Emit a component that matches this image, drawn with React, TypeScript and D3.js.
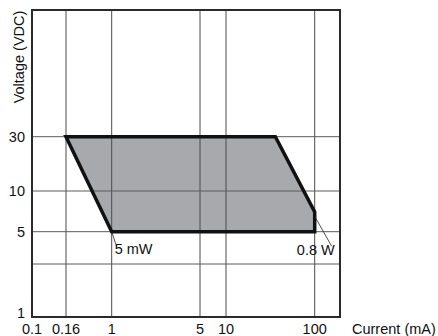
import React from "react";
import * as d3 from "d3";

const xTickValues = [0.1, 0.16, 1, 5, 10, 100];
const xTickLabels = ["0.1", "0.16", "1", "5", "10", "100"];
const xGridValues = [0.16, 1, 5, 10, 100];
const yTickValues = [1, 5, 10, 30];
const yTickLabels = ["1", "5", "10", "30"];
const yGridValues = [3, 5, 10, 30];
const regionCurrent = [0.16, 36, 100, 100, 1];
const regionVoltage = [30, 30, 7, 5, 5];
const annotations = [
  { label: "5 mW", x: 1, y: 5 },
  { label: "0.8 W", x: 100, y: 6.5 },
];

const W = 438;
const H = 336;
const FONT = "'Liberation Sans', Arial, Helvetica, sans-serif";
const FS = 14.5;

export default function App() {
  // schematic (piecewise) log scales
  const x = d3
    .scaleLog()
    .domain([0.1, 0.16, 1, 5, 10, 100, 200])
    .range([32, 66, 111.7, 200, 226, 314.7, 340]);
  const y = d3
    .scaleLog()
    .domain([1, 3, 5, 10, 30, 100])
    .range([317, 264, 231.7, 191, 136.7, 10]);

  const left = 32,
    right = 340,
    top = 10,
    bottom = 317;

  const pts: [number, number][] = regionCurrent.map((c, i) => [x(c), y(regionVoltage[i])]);
  const line = d3.line().curve(d3.curveLinearClosed);
  const poly = line(pts) || "";

  const ann0 = annotations[0];
  const ann1 = annotations[1];

  return (
    <svg
      width={W}
      height={H}
      style={{ position: "absolute", left: 0, top: 0, background: "#fff" }}
      fontFamily={FONT}
    >
      <path d={poly} fill="#a7a9ac" stroke="none" />
      {xGridValues.map((v) => (
        <line key={"xg" + v} x1={x(v)} x2={x(v)} y1={top} y2={bottom} stroke="#4a4a4a" strokeWidth={1} />
      ))}
      {yGridValues.map((v) => (
        <line key={"yg" + v} x1={left} x2={right} y1={y(v)} y2={y(v)} stroke="#5a5a5a" strokeWidth={1} />
      ))}
      <path d={poly} fill="none" stroke="#111" strokeWidth={3.5} strokeLinejoin="miter" />
      <rect x={left} y={top} width={right - left} height={bottom - top} fill="none" stroke="#2a2a2a" strokeWidth={2} />

      {/* annotations */}
      <line x1={x(ann0.x)} y1={y(ann0.y)} x2={x(ann0.x) + 5} y2={y(ann0.y) + 15} stroke="#222" strokeWidth={0.8} />
      <text x={x(ann0.x) + 3} y={254} fontSize={FS} fill="#111">
        {ann0.label}
      </text>
      <line x1={x(ann1.x)} y1={y(ann1.y)} x2={x(ann1.x) + 17} y2={y(ann1.y) + 30} stroke="#222" strokeWidth={0.8} />
      <text x={x(ann1.x) + 20} y={255} fontSize={FS} fill="#111" textAnchor="end">
        {ann1.label}
      </text>

      {/* y tick labels */}
      {yTickValues.map((v, i) => (
        <text
          key={"yt" + v}
          x={25}
          y={(v === 1 ? y(v) - 4 : y(v)) + 5}
          fontSize={FS}
          textAnchor="end"
          fill="#111"
        >
          {yTickLabels[i]}
        </text>
      ))}
      {/* x tick labels */}
      {xTickValues.map((v, i) => (
        <text key={"xt" + v} x={x(v)} y={333.5} fontSize={FS} textAnchor="middle" fill="#111">
          {xTickLabels[i]}
        </text>
      ))}
      <text x={352} y={333.5} fontSize={FS} fill="#111">
        Current (mA)
      </text>
      <text
        transform={`translate(24,57) rotate(-90)`}
        fontSize={FS}
        textAnchor="middle"
        fill="#111"
      >
        Voltage (VDC)
      </text>
    </svg>
  );
}
